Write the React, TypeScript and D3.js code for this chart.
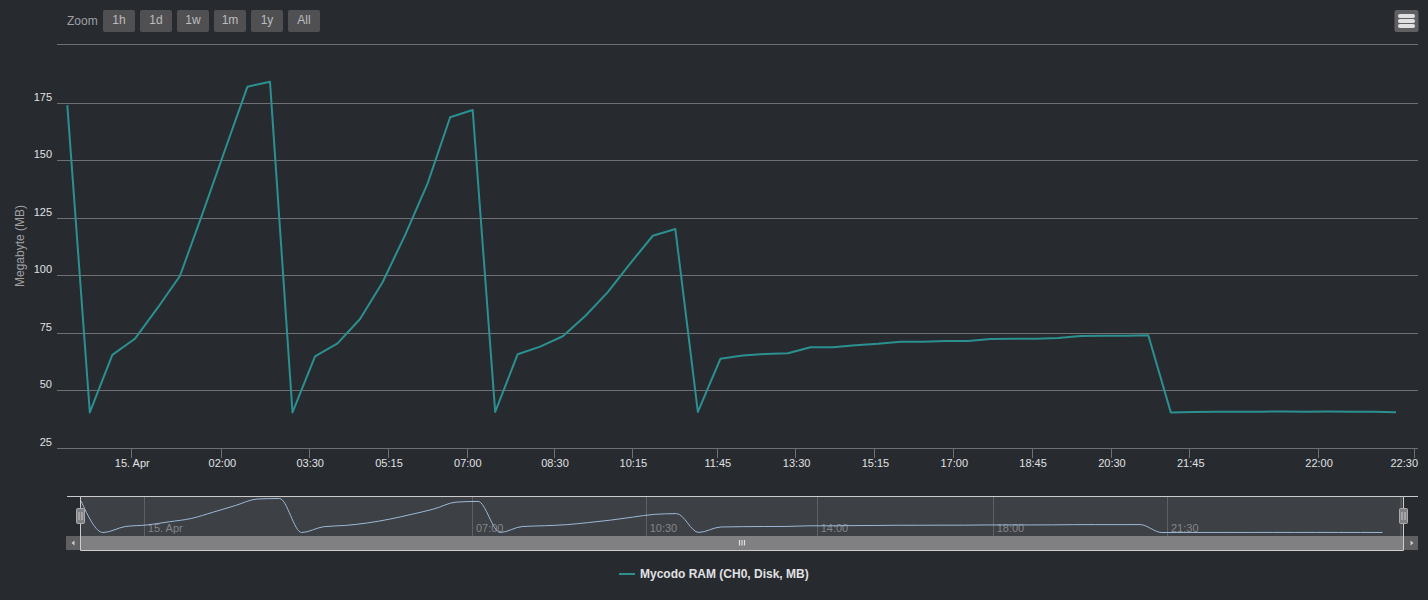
import * as d3 from 'd3'

const ramValues = [
  174.3, 40.7, 65.7, 72.7, 86, 100, 127, 154.8, 182.3, 184.5,
  40.7, 65.1, 70.7, 81.3, 97.3, 117.8, 140.3, 169, 172.2, 40.9,
  66, 69.3, 73.8, 82.6, 93, 105.5, 117.5, 120.4, 40.9, 64,
  65.4, 66.1, 66.4, 69, 69, 69.9, 70.5, 71.4, 71.4, 71.7,
  71.7, 72.6, 72.7, 72.7, 73, 73.9, 74, 74, 74.2, 40.7,
  40.9, 41, 41, 41, 41.1, 41, 41.1, 41, 41, 40.8,
]
const yTicks = [25, 50, 75, 100, 125, 150, 175]
const xTickLabels = ['15. Apr', '02:00', '03:30', '05:15', '07:00', '08:30', '10:15', '11:45', '13:30', '15:15', '17:00', '18:45', '20:30', '21:45', '22:00', '22:30']
// tick places, in units of data point index
const xTickIndex = [2.85, 6.85, 10.75, 14.25, 17.75, 21.62, 25.1, 28.85, 32.35, 35.85, 39.35, 42.85, 46.35, 49.85, 55.55, 59.8]
const navLabels = ['15. Apr', '07:00', '10:30', '14:00', '18:00', '21:30']
const navTickIndex = [2.85, 17.72, 25.6, 33.35, 41.33, 49.23]
const zoomButtons = ['1h', '1d', '1w', '1m', '1y', 'All']

const bg = '#272b30'
const gridColor = '#707073'
const teal = '#2b908f'
const font = '"Liberation Sans", Arial, sans-serif'

const width = 1428
const height = 600
const plotLeft = 57
const plotRight = 1418
const plotTop = 44.5

export default function App() {
  const x = d3.scaleLinear().domain([0, 59]).range([67.3, 1396])
  const y = d3.scaleLinear().domain([25, 175]).range([448.5, 103.5])
  const navX = d3.scaleLinear().domain([0, 59]).range([81, 1382.5])
  const navY = d3.scaleLinear().domain([40.7, 184.5]).range([532.5, 498.5])

  const line = d3.line<number>().x((_, i) => x(i)).y(d => y(d))
  const navLine = d3.line<number>().x((_, i) => navX(i)).y(d => navY(d)).curve(d3.curveMonotoneX)
  const crisp = (v: number) => Math.floor(v) + 0.5

  return (
    <div style={{ position: 'absolute', left: 0, top: 0, width, height, background: bg }}>
      <svg width={width} height={height} style={{ display: 'block', fontFamily: font }}>
        <rect width={width} height={height} fill={bg} />

        {/* range selector */}
        <text x={67} y={25} fontSize={12} fill="#a0a0a3">Zoom</text>
        {zoomButtons.map((b, i) => (
          <g key={b} transform={`translate(${103 + i * 37},10)`}>
            <rect width={32} height={22} rx={2} fill="#505053" />
            <text x={16} y={14} textAnchor="middle" fontSize={12} fill="#bcbcbc">{b}</text>
          </g>
        ))}

        {/* export menu */}
        <rect x={1394.5} y={10} width={24} height={22} rx={2} fill="#606063" />
        {[16, 21, 26].map(v => (
          <rect key={v} x={1398.5} y={v - 1.5} width={16} height={3} rx={1} fill="#e0e0e3" stroke="#e0e0e3" strokeWidth={1} />
        ))}

        {/* y axis */}
        <line x1={plotLeft} x2={plotRight} y1={plotTop} y2={plotTop} stroke={gridColor} />
        {yTicks.map(t => (
          <g key={t}>
            <line x1={plotLeft} x2={plotRight} y1={crisp(y(t) - 0.5)} y2={crisp(y(t) - 0.5)} stroke={gridColor} />
            <text x={52} y={crisp(y(t) - 0.5) - 2.5} textAnchor="end" fontSize={11} fill="#e0e0e3">{t}</text>
          </g>
        ))}
        <text
          transform={`translate(24,246) rotate(-90)`}
          textAnchor="middle"
          fontSize={12}
          fill="#a0a0a3"
        >
          Megabyte (MB)
        </text>

        {/* x axis */}
        {xTickIndex.map((t, i) => (
          <g key={xTickLabels[i]}>
            <line x1={crisp(x(t))} x2={crisp(x(t))} y1={448} y2={458} stroke={gridColor} />
            <text
              x={i === xTickIndex.length - 1 ? 1418 : x(t) + 0.8}
              y={467}
              textAnchor={i === xTickIndex.length - 1 ? 'end' : 'middle'}
              fontSize={11}
              fill="#e0e0e3"
            >
              {xTickLabels[i]}
            </text>
          </g>
        ))}

        <path d={line(ramValues)!} fill="none" stroke={teal} strokeWidth={2} strokeLinejoin="round" />

        {/* navigator */}
        <rect x={81} y={497} width={1322} height={39} fill="#3d4045" />
        {navTickIndex.map((t, i) => (
          <g key={navLabels[i]}>
            <line x1={crisp(navX(t) + 0.8)} x2={crisp(navX(t) + 0.8)} y1={497} y2={536} stroke="#606063" />
            <text x={navX(t) + 4} y={532} fontSize={11} fill="#85858a">{navLabels[i]}</text>
          </g>
        ))}
        <line x1={1401} x2={1401} y1={497} y2={536} stroke="#606063" />
        <path d={navLine(ramValues)!} fill="none" stroke="#9db8d8" strokeWidth={1} />

        {/* scrollbar */}
        <rect x={66} y={536} width={1352} height={14} fill="#808083" />
        <rect x={66} y={536} width={14.5} height={14} fill="#606063" />
        <rect x={1403.5} y={536} width={14.5} height={14} fill="#606063" />
        <path d="M74.5 540.5 L74.5 545.5 L71.5 543 Z" fill="#cccccc" />
        <path d="M1410.5 540.5 L1410.5 545.5 L1413.5 543 Z" fill="#cccccc" />
        {[739.5, 742, 744.5].map(v => (
          <line key={v} x1={v} x2={v} y1={540} y2={545.5} stroke="#e0e0e3" strokeWidth={1.2} />
        ))}

        {/* navigator outline */}
        <path
          d="M67 496.5 H80.5 V550.5 H1403.5 V496.5 H1418 M80.5 496.5 H1403.5"
          fill="none"
          stroke="#cccccc"
        />

        {/* handles */}
        {[80.5, 1403.5].map(cx => (
          <g key={cx} transform={`translate(${cx},508)`}>
            <rect x={-4} y={0.5} width={8} height={15} rx={1} fill="#808083" stroke="#aaaaaa" />
            <line x1={-1.5} x2={-1.5} y1={4} y2={12} stroke="#c8c8c8" />
            <line x1={1.5} x2={1.5} y1={4} y2={12} stroke="#c8c8c8" />
          </g>
        ))}

        {/* legend */}
        <line x1={619} x2={635} y1={574} y2={574} stroke={teal} strokeWidth={2} />
        <text x={640} y={578} fontSize={12} fontWeight="bold" fill="#e0e0e3">Mycodo RAM (CH0, Disk, MB)</text>
      </svg>
    </div>
  )
}
